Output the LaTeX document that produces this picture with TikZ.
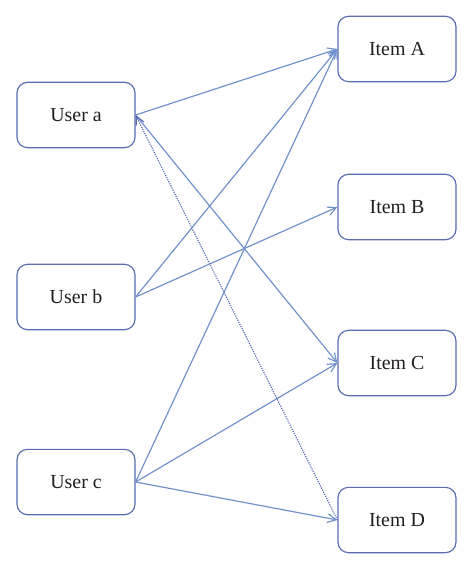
\documentclass[tikz,border=0pt]{standalone}
\usepackage{fontspec}
\setmainfont{Liberation Serif}
\usepackage{xcolor}
\usetikzlibrary{arrows.meta, positioning}
\definecolor{rblue}{HTML}{5A6DB3}
\definecolor{rline}{HTML}{7090CC}
\definecolor{rtext}{HTML}{231F20}

\begin{document}
\begin{tikzpicture}[x=0.03cm, y=-0.03cm,
    entity/.style={draw=rblue, line width=1pt, rounded corners=9pt, fill=white,
      minimum width=3.54cm, minimum height=1.96cm, text=rtext,
      font=\fontsize{17}{20}\selectfont},
    link/.style={rline, line width=1pt, -{Straight Barb[length=2.6mm, width=2.6mm]}},
    weaklink/.style={link, draw=rblue, densely dotted}]

  \useasboundingbox (0,0) rectangle (474,570);

  %% users
  \node[entity] (usera) at (76,115) {User a};
  \node[entity] (userb) at (76,297) {User b};
  \node[entity] (userc) at (76,482) {User c};

  %% items
  \node[entity] (itema) at (397,49)  {Item A};
  \node[entity] (itemb) at (397,207) {Item B};
  \node[entity] (itemc) at (397,363) {Item C};
  \node[entity] (itemd) at (397,520) {Item D};

  %% links
  \foreach \u/\i in {usera/itema, usera/itemc, userb/itema, userb/itemb,
                     userc/itema, userc/itemc, userc/itemd}{
    \draw[link] (\u.east) -- (\i.west);
  }
  \draw[weaklink] (itemd.west) -- (usera.east);

\end{tikzpicture}
\end{document}
